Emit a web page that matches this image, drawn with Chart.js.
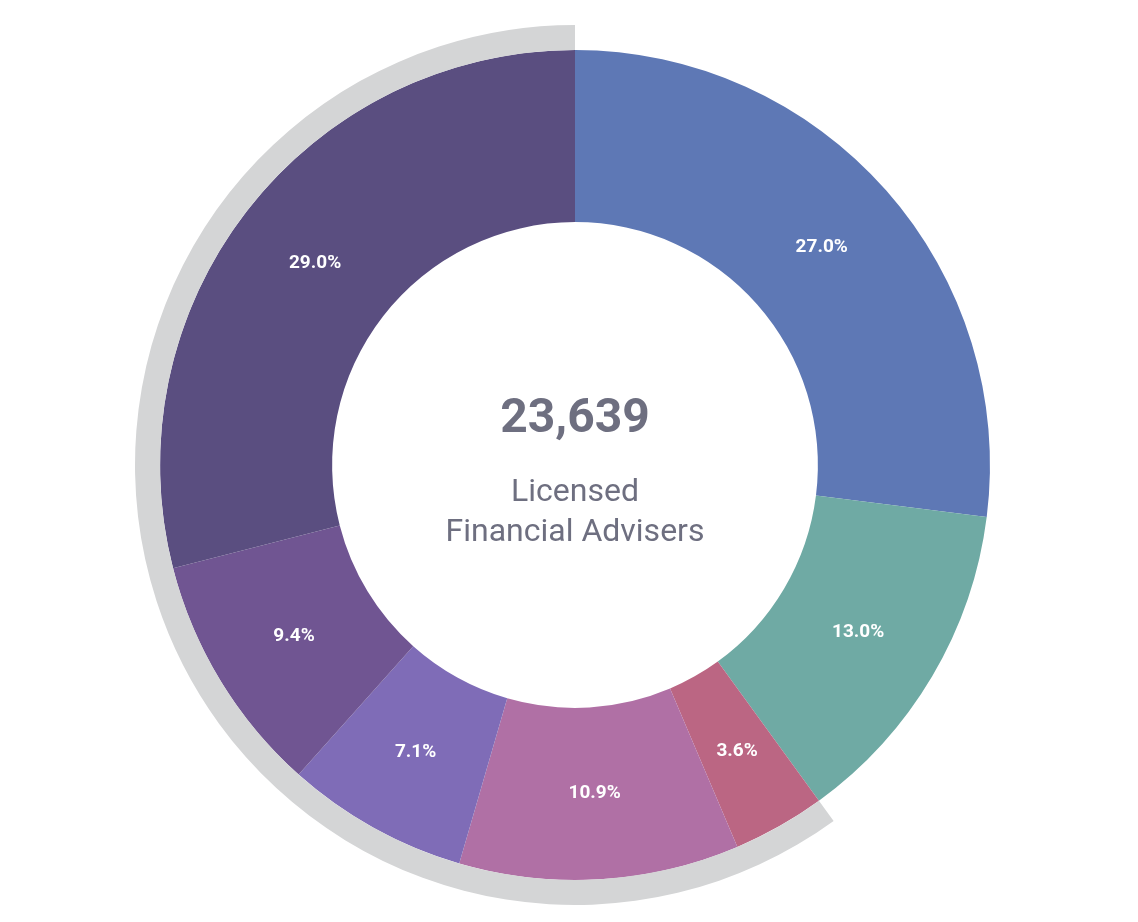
<!DOCTYPE html>
<html>
<head>
<meta charset="utf-8">
<script src="https://cdn.jsdelivr.net/npm/chart.js@4"></script>
<style>
  html, body { margin: 0; padding: 0; background: #fff; }
  #wrap { width: 1138px; height: 922px; }
</style>
</head>
<body>
<div id="wrap"><canvas id="donut" width="1138" height="922"></canvas></div>
<script>
const shares = [27.0, 13.0, 3.6, 10.9, 7.1, 9.4, 29.0];
const colours = ['#5E78B5', '#6FAAA4', '#BB6683', '#B070A5', '#7F6CB7', '#705592', '#5A4E80'];
const highlight = [40, 60]; // gray band behind the last five slices
const total = '23,639';
const caption = ['Licensed', 'Financial Advisers'];

const labelPlugin = {
    id: 'labels',
    afterDatasetsDraw(chart) {
        const ctx = chart.ctx;
        const meta = chart.getDatasetMeta(1);
        ctx.save();
        ctx.fillStyle = '#fff';
        ctx.font = 'bold 19px Roboto';
        ctx.textAlign = 'center';
        ctx.textBaseline = 'middle';
        meta.data.forEach((arc, i) => {
            const p = arc.tooltipPosition();
            ctx.fillText(shares[i].toFixed(1) + '%', p.x, p.y);
        });
        const a = meta.data[0];
        ctx.fillStyle = '#6E6F80';
        ctx.font = 'bold 48px Roboto';
        ctx.fillText(total, a.x, a.y - 45);
        ctx.font = '32px Roboto';
        ctx.fillText(caption[0], a.x, a.y + 28);
        ctx.fillText(caption[1], a.x, a.y + 68);
        ctx.restore();
    }
};

new Chart(document.getElementById('donut').getContext('2d'), {
    type: 'doughnut',
    data: {
        datasets: [{
            data: highlight,
            backgroundColor: ['rgba(0,0,0,0)', '#D4D5D6'],
            borderWidth: 0,
            weight: 25
        }, {
            data: shares,
            backgroundColor: colours,
            borderWidth: 0,
            weight: 172
        }]
    },
    options: {
        responsive: false,
        animation: false,
        cutout: '55.2%',
        layout: { padding: { left: 135, right: 123, top: 25, bottom: 17 } },
        plugins: { legend: { display: false }, tooltip: { enabled: false } }
    },
    plugins: [labelPlugin]
});
</script>
</body>
</html>
